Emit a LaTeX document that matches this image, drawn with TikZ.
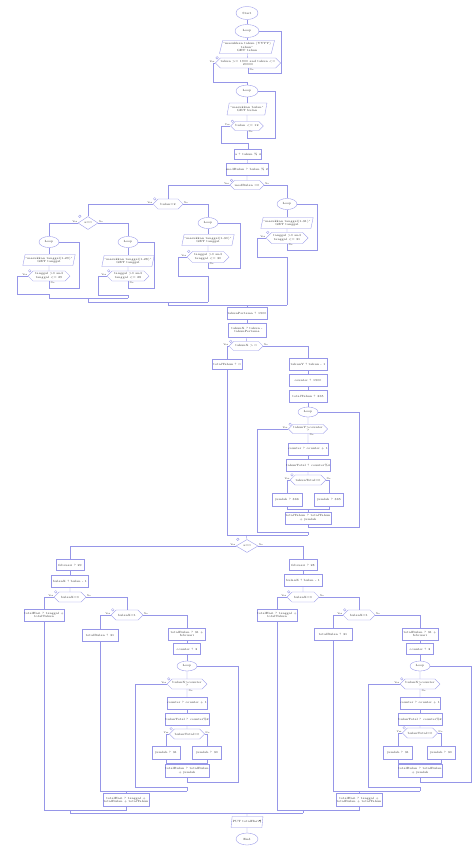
\documentclass[tikz,border=0pt]{standalone}
\usetikzlibrary{shapes.geometric,shapes.symbols}
\definecolor{ln}{RGB}{150,150,232}
\definecolor{tx}{RGB}{50,50,50}
\tikzset{
  base/.style={draw=ln,line width=0.35pt,fill=white,text=tx,inner sep=0.3pt,align=center,font=\fontsize{3}{3.6}\selectfont},
  box/.style 2 args={base,rectangle,minimum width=#1pt,minimum height=#2pt},
  io/.style 2 args={base,trapezium,trapezium left angle=72,trapezium right angle=108,trapezium stretches=true,minimum width=#1pt,minimum height=#2pt},
  hexd/.style 2 args={base,signal,signal to=west and east,minimum width=#1pt,minimum height=#2pt},
  dia/.style 2 args={base,diamond,minimum width=#1pt,minimum height=#2pt},
  term/.style 2 args={base,ellipse,minimum width=#1pt,minimum height=#2pt},
  lbl/.style={text=tx,inner sep=0.4pt,font=\fontsize{2.4}{2.8}\selectfont},
  cn/.style={draw=ln,line width=0.35pt},
  icn/.style={draw=ln,line width=0.3pt,fill=white}
}
\newcommand\ylab[1]{\node[lbl,anchor=south east] at (#1.west) {Yes};}
\newcommand\nlab[1]{\node[lbl,anchor=south west] at (#1.east) {No};}
\newcommand\blab[1]{\node[lbl,anchor=north west] at ([xshift=1pt]#1.south) {No};}
\newcommand\dicon[1]{\draw[icn] ([xshift=2pt]#1.west |- #1.north) circle (1.3pt);}
\begin{document}
\begin{tikzpicture}[x=1pt,y=-1pt]
\useasboundingbox (0,0) rectangle (474,848);
\fill[white] (0,0) rectangle (474,848);
% ---------- top ----------
\node[term={22}{13}] (start) at (247,13) {Start};
\node[term={24}{13}] (L1) at (247,31) {Loop};
\node[io={40}{13}] (in1) at (247,47) {"masukkan tahun (YYYY)\\tahun"\\GET tahun};
\node[hexd={48}{10}] (d1) at (248,63) {tahun >= 1900 and tahun <=\\20000};
\draw[cn] (start) -- (L1); \draw[cn] (L1) -- (in1); \draw[cn] (in1) -- (d1);
\draw[cn] (d1.south) -- (248,73) -- (281,73) -- (281,31) -- (L1.east);
\node[term={22}{12}] (L2) at (247,91) {Loop};
\draw[cn] (d1.west) -- (213,63) -- (213,82) -- (247,82) -- (L2.north);
\ylab{d1} \blab{d1}
\node[io={40}{12}] (in2) at (247,109) {"masukkan bulan"\\GET bulan};
\node[hexd={32}{9}] (d2) at (247,126) {bulan <= 12};
\draw[cn] (L2) -- (in2); \draw[cn] (in2) -- (d2);
\draw[cn] (d2.south) -- (247,138) -- (275,138) -- (275,91) -- (L2.east);
\node[box={27}{10}] (a) at (248,154) {a ? tahun \% 4};
\draw[cn] (d2.west) -- (221,126) -- (221,143) -- (248,143) -- (a.north);
\ylab{d2} \blab{d2}
\node[box={39}{12}] (mb) at (247,169) {modBulan ? bulan \% 2};
\node[hexd={32}{9}] (d3) at (247,185) {modBulan =0};
\draw[cn] (a) -- (mb); \draw[cn] (mb) -- (d3);
% ---------- bulan branches ----------
\node[hexd={30}{10}] (b2) at (168,204) {bulan=2};
\node[term={20}{11}] (L6) at (287,204) {Loop};
\draw[cn] (d3.west) -- (168,185) -- (b2.north);
\draw[cn] (d3.east) -- (287,185) -- (L6.north);
\ylab{d3} \nlab{d3}
\node[dia={20}{13}] (a0) at (88,223) {a=0};
\node[term={20}{11}] (L5) at (208,223) {Loop};
\draw[cn] (b2.west) -- (88,204) -- (a0.north);
\draw[cn] (b2.east) -- (208,204) -- (L5.north);
\ylab{b2} \nlab{b2}
\node[term={20}{11}] (L3) at (49,242) {Loop};
\node[term={20}{11}] (L4) at (128,242) {Loop};
\draw[cn] (a0.west) -- (49,223) -- (L3.north);
\draw[cn] (a0.east) -- (128,223) -- (L4.north);
\ylab{a0} \nlab{a0}
% loop 3
\node[io={46}{11}] (in3) at (49,260) {"masukkan tanggal(1-29)"\\GET tanggal};
\node[hexd={42}{10}] (d4) at (49,276) {tanggal >0 and\\tanggal <= 29};
\draw[cn] (L3) -- (in3); \draw[cn] (in3) -- (d4);
\draw[cn] (d4.south) -- (49,288) -- (79,288) -- (79,242) -- (L3.east);
\draw[cn] (d4.west) -- (17,276) -- (17,294) -- (49,294) -- (49,298);
\ylab{d4} \blab{d4}
% loop 4
\node[io={46}{11}] (in4) at (128,261) {"masukkan tanggal(1-28)"\\GET tanggal};
\node[hexd={42}{10}] (d5) at (128,276) {tanggal >0 and\\tanggal <= 28};
\draw[cn] (L4) -- (in4); \draw[cn] (in4) -- (d5);
\draw[cn] (d5.south) -- (128,288) -- (154,288) -- (154,242) -- (L4.east);
\draw[cn] (d5.west) -- (98,276) -- (98,295) -- (128,295) -- (128,298);
\ylab{d5} \blab{d5}
\draw[cn] (49,298) -- (128,298);
\draw[cn] (88,298) -- (88,302);
% loop 5
\node[io={46}{11}] (in5) at (208,240) {"masukkan tanggal(1-30)"\\GET tanggal};
\node[hexd={42}{11}] (d6) at (208,257) {tanggal >0 and\\tanggal <= 30};
\draw[cn] (L5) -- (in5); \draw[cn] (in5) -- (d6);
\draw[cn] (d6.south) -- (208,268) -- (240,268) -- (240,223) -- (L5.east);
\draw[cn] (d6.west) -- (178,257) -- (178,276) -- (208,276) -- (208,302);
\ylab{d6} \blab{d6}
\draw[cn] (88,302) -- (208,302);
\draw[cn] (168,302) -- (168,305);
% loop 6
\node[io={44}{11}] (in6) at (287,223) {"masukkan tanggal(1-31)"\\GET tanggal};
\node[hexd={42}{11}] (d7) at (287,238) {tanggal >0 and\\tanggal <= 31};
\draw[cn] (L6) -- (in6); \draw[cn] (in6) -- (d7);
\draw[cn] (d7.south) -- (287,250) -- (317,250) -- (317,204) -- (L6.east);
\draw[cn] (d7.west) -- (257,238) -- (257,257) -- (287,257) -- (287,305);
\ylab{d7} \blab{d7}
\draw[cn] (168,305) -- (287,305);
% ---------- years ----------
\node[box={39}{12}] (tp) at (247,313) {tahunPertama ? 1900};
\draw[cn] (247,305) -- (tp.north);
\node[box={38}{14}] (tx) at (247,330) {tahunX ? tahun -\\tahunPertama};
\node[hexd={34}{9}] (d8) at (246,346) {tahunX > 0};
\draw[cn] (tp) -- (tx); \draw[cn] (tx) -- (d8);
\node[box={30}{10}] (tt0) at (227,364) {totalTahun ? 0};
\node[box={38}{12}] (ty) at (308,364) {tahunY ? tahun - 1};
\draw[cn] (d8.west) -- (227,346) -- (tt0.north);
\draw[cn] (d8.east) -- (308,346) -- (ty.north);
\ylab{d8} \nlab{d8}
\node[box={38}{12}] (c0) at (308,380) {counter ? 1900};
\node[box={38}{12}] (t365) at (308,396) {totalTahun ? 365};
\node[term={20}{10}] (L7) at (308,412) {Loop};
\node[hexd={32}{9}] (d9) at (308,429) {tahunY>counter\\?};
\draw[cn] (ty) -- (c0); \draw[cn] (c0) -- (t365); \draw[cn] (t365) -- (L7); \draw[cn] (L7) -- (d9);
\node[box={39}{12}] (cc) at (308,449) {counter ? counter + 1};
\node[box={39}{12}] (tT) at (308,465) {tahunTotal ? counter\%4};
\node[hexd={32}{10}] (d10) at (308,480) {tahunTotal=0};
\draw[cn] (d9) -- (cc); \draw[cn] (cc) -- (tT); \draw[cn] (tT) -- (d10);
\ylab{d9} \blab{d9}
\draw[cn] (d9.west) -- (257,429) -- (257,532) -- (308,532) -- (308,535);
\node[box={30}{13}] (j366) at (287,500) {jumlah ? 366};
\node[box={29}{13}] (j365) at (329,500) {jumlah ? 365};
\draw[cn] (d10.west) -- (287,480) -- (j366.north);
\draw[cn] (d10.east) -- (329,480) -- (j365.north);
\ylab{d10} \nlab{d10}
\node[box={38}{12}] (tta) at (308,518) {totalTahun ? totalTahun\\+ jumlah};
\draw[cn] (j366.south) -- (287,509) -- (329,509) -- (j365.south);
\draw[cn] (308,509) -- (tta.north);
\draw[cn] (tta.south) -- (308,527) -- (359,527) -- (359,412) -- (L7.east);
\draw[cn] (tt0.south) -- (227,535) -- (308,535);
\node[dia={22}{13}] (a02) at (247,546) {a=0};
\draw[cn] (246,535) -- (a02.north);
% ---------- left month part ----------
\node[box={28}{11}] (f29) at (70,565) {februari ? 29};
\node[box={28}{11}] (f28) at (303,565) {februari ? 28};
\draw[cn] (a02.west) -- (70,546) -- (f29.north);
\draw[cn] (a02.east) -- (303,546) -- (f28.north);
\ylab{a02} \nlab{a02}
\node[box={37}{12}] (bx1) at (70,581) {bulanX ? bulan - 1};
\node[hexd={32}{10}] (d11) at (70,597) {bulanX=0};
\draw[cn] (f29) -- (bx1); \draw[cn] (bx1) -- (d11);
\node[box={38}{12}] (th1) at (44,615) {totalHari ? tanggal +\\totalTahun};
\node[hexd={32}{10}] (d12) at (127,615) {bulanX=1};
\draw[cn] (d11.west) -- (44,597) -- (th1.north);
\draw[cn] (d11.east) -- (127,597) -- (d12.north);
\ylab{d11} \nlab{d11}
\node[box={36}{12}] (tb31) at (100,635) {totalBulan ? 31};
\node[box={37}{12}] (tbf) at (187,634) {totalBulan ? 31 +\\februari};
\draw[cn] (d12.west) -- (100,615) -- (tb31.north);
\draw[cn] (d12.east) -- (187,615) -- (tbf.north);
\ylab{d12} \nlab{d12}
\node[box={27}{11}] (c2) at (187,649) {counter ? 2};
\node[term={20}{10}] (L8) at (187,666) {Loop};
\node[hexd={32}{10}] (d13) at (187,684) {bulanX>counter\\?};
\draw[cn] (tbf) -- (c2); \draw[cn] (c2) -- (L8); \draw[cn] (L8) -- (d13);
\node[box={38}{12}] (cc2) at (187,703) {counter ? counter + 1};
\node[box={38}{12}] (bt) at (187,719) {bulanTotal ? counter\%2};
\node[hexd={30}{10}] (d14) at (187,734) {bulanTotal=0};
\draw[cn] (d13) -- (cc2); \draw[cn] (cc2) -- (bt); \draw[cn] (bt) -- (d14);
\ylab{d13} \blab{d13}
\draw[cn] (d13.west) -- (135,684) -- (135,787) -- (187,787) -- (187,791);
\node[box={28}{13}] (j31) at (166,753) {jumlah ? 31};
\node[box={29}{13}] (j30) at (207,753) {jumlah ? 30};
\draw[cn] (d14.west) -- (166,734) -- (j31.north);
\draw[cn] (d14.east) -- (207,734) -- (j30.north);
\ylab{d14} \nlab{d14}
\node[box={38}{13}] (tbj) at (187,771) {totalBulan ? totalBulan\\+ jumlah};
\draw[cn] (j31.south) -- (166,763) -- (207,763) -- (j30.south);
\draw[cn] (187,763) -- (tbj.north);
\draw[cn] (tbj.south) -- (187,782) -- (238,782) -- (238,666) -- (L8.east);
\draw[cn] (tb31.south) -- (100,791) -- (187,791);
\node[box={38}{13}] (thb) at (126,800) {totalHari ? tanggal +\\totalBulan + totalTahun};
\draw[cn] (126,791) -- (thb.north);
\draw[cn] (th1.south) -- (44,810) -- (126,810) -- (thb.south);
\draw[cn] (70,810) -- (70,813);
% ---------- right month part ----------
\node[box={38}{12}] (bx2) at (303,580) {bulanX ? bulan - 1};
\node[hexd={32}{10}] (d15) at (303,597) {bulanX=0};
\draw[cn] (f28) -- (bx2); \draw[cn] (bx2) -- (d15);
\node[box={38}{12}] (th2) at (277,615) {totalHari ? tanggal +\\totalTahun};
\node[hexd={32}{10}] (d16) at (359,615) {bulanX=1};
\draw[cn] (d15.west) -- (277,597) -- (th2.north);
\draw[cn] (d15.east) -- (359,597) -- (d16.north);
\ylab{d15} \nlab{d15}
\node[box={38}{12}] (tb31b) at (333,634) {totalBulan ? 31};
\node[box={36}{12}] (tbfb) at (420,634) {totalBulan ? 31 +\\februari};
\draw[cn] (d16.west) -- (333,615) -- (tb31b.north);
\draw[cn] (d16.east) -- (420,615) -- (tbfb.north);
\ylab{d16} \nlab{d16}
\node[box={27}{11}] (c2b) at (420,649) {counter ? 2};
\node[term={20}{10}] (L9) at (420,666) {Loop};
\node[hexd={30}{10}] (d17) at (420,684) {bulanX>counter\\?};
\draw[cn] (tbfb) -- (c2b); \draw[cn] (c2b) -- (L9); \draw[cn] (L9) -- (d17);
\node[box={38}{12}] (cc3) at (420,703) {counter ? counter + 1};
\node[box={38}{12}] (bt2) at (420,719) {bulanTotal ? counter\%2};
\node[hexd={30}{10}] (d18) at (420,733) {bulanTotal=0};
\draw[cn] (d17) -- (cc3); \draw[cn] (cc3) -- (bt2); \draw[cn] (bt2) -- (d18);
\ylab{d17} \blab{d17}
\draw[cn] (d17.west) -- (368,684) -- (368,787) -- (420,787) -- (420,791);
\node[box={29}{13}] (j31b) at (398,753) {jumlah ? 31};
\node[box={28}{13}] (j30b) at (441,753) {jumlah ? 30};
\draw[cn] (d18.west) -- (398,733) -- (j31b.north);
\draw[cn] (d18.east) -- (441,733) -- (j30b.north);
\ylab{d18} \nlab{d18}
\node[box={38}{13}] (tbj2) at (420,771) {totalBulan ? totalBulan\\+ jumlah};
\draw[cn] (j31b.south) -- (398,763) -- (441,763) -- (j30b.south);
\draw[cn] (420,763) -- (tbj2.north);
\draw[cn] (tbj2.south) -- (420,782) -- (471,782) -- (471,666) -- (L9.east);
\draw[cn] (tb31b.south) -- (333,791) -- (420,791);
\node[box={38}{13}] (thb2) at (359,800) {totalHari ? tanggal +\\totalBulan + totalTahun};
\draw[cn] (359,791) -- (thb2.north);
\draw[cn] (th2.south) -- (277,810) -- (359,810) -- (thb2.south);
\draw[cn] (303,810) -- (303,813);
% ---------- end ----------
\draw[cn] (70,813) -- (303,813);
\node[io={32}{11}] (put) at (247,822) {PUT totalHari¶};
\node[term={22}{12}] (end) at (247,839) {End};
\draw[cn] (247,813) -- (put.north);
\draw[cn] (put) -- (end);
% decision icons
\foreach \d in {d1,d2,d3,b2,a0,d4,d5,d6,d7,d8,d9,d10,a02,d11,d12,d13,d14,d15,d16,d17,d18} {\dicon{\d}}
\end{tikzpicture}
\end{document}
